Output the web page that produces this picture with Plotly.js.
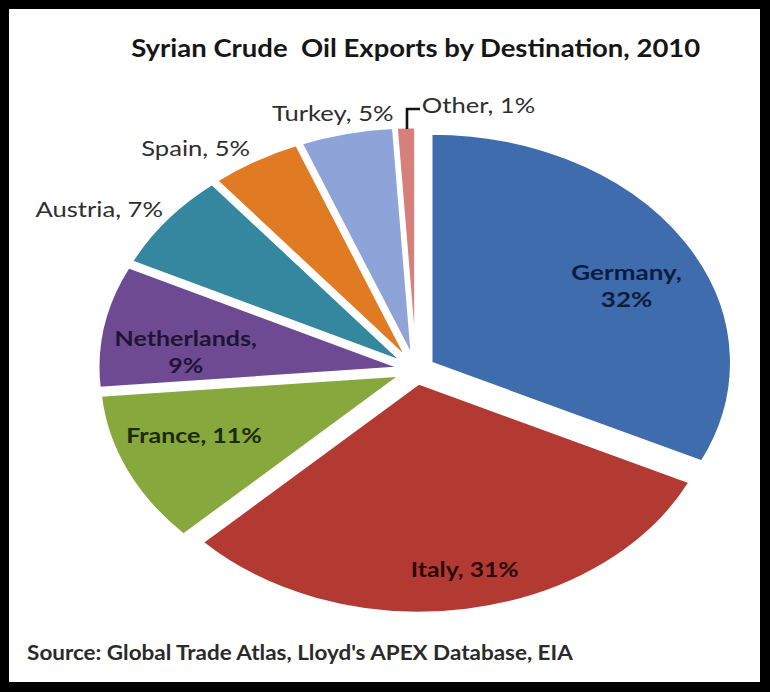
<!DOCTYPE html>
<html>
<head>
<meta charset="utf-8">
<script src="https://cdn.plot.ly/plotly-3.0.0.min.js"></script>
<style>html,body{margin:0;padding:0;background:#000}#chart{width:770px;height:692px}</style>
</head>
<body>
<div id="chart"></div>
<script>
const categories = ["Germany","Italy","France","Netherlands","Austria","Spain","Turkey","Other"];
const shares = [32.1,30.7,10.8,8.6,6.9,4.9,5.0,1.0];
const sliceColors = ["#3f6cad","#b33a32","#86a83c","#6e4a93","#34879f","#e07b24","#8ea3d8","#d6807c"];
const W = 770, H = 692;
const fx = x => x / W, fy = y => 1 - y / H;
const cx = 416, cy = 370, rx = 300, ry = 229, pull = 0.06;
const half = rx * (1 + pull);

const stretches = [];
function note(text, x, y, size, weight, color, widen, anchor) {
  stretches.push({widen, left: anchor === "left"});
  return {text, x: fx(x), y: fy(y), xref: "paper", yref: "paper", showarrow: false,
    xanchor: anchor || "center", yanchor: "middle", align: anchor || "center",
    font: {family: "Lato, 'Open Sans', sans-serif", size, weight, color}};
}

const layout = {
  width: W, height: H,
  margin: {l: 0, r: 0, t: 0, b: 0},
  paper_bgcolor: "#000",
  showlegend: false,
  shapes: [
    {type: "rect", xref: "paper", yref: "paper", layer: "below", x0: fx(9), x1: fx(760), y0: fy(682), y1: fy(9),
      fillcolor: "#fff", line: {width: 0}},
    {type: "path", xref: "paper", yref: "paper", layer: "above",
      path: `M ${fx(407)} ${fy(129)} L ${fx(407)} ${fy(109)} L ${fx(420)} ${fy(109)}`,
      line: {color: "#111", width: 2.6}}
  ],
  annotations: [
    note("Syrian Crude  Oil Exports by Destination, 2010", 416, 47, 25, 700, "#161616", 1.1),
    note("Turkey, 5%", 333, 113, 21, 400, "#2e2e2e", 1.22),
    note("Other, 1%", 478, 104, 21, 400, "#2e2e2e", 1.22),
    note("Spain, 5%", 196, 147, 21, 400, "#2e2e2e", 1.22),
    note("Austria, 7%", 100, 208, 21, 400, "#2e2e2e", 1.22),
    note("Netherlands,<br>9%", 186, 351, 21, 700, "#1d1533", 1.19),
    note("France, 11%", 194, 434, 21, 700, "#1d2a08", 1.19),
    note("Italy, 31%", 465, 568, 21, 700, "#2a0a08", 1.18),
    note("Germany,<br>32%", 626, 285, 21, 700, "#0c1c3c", 1.24),
    note("Source: Global Trade Atlas, Lloyd's APEX Database, EIA", 25, 651, 21, 700, "#2a2a2a", 1.07, "left")
  ]
};

const trace = {
  type: "pie",
  labels: categories,
  values: shares,
  sort: false,
  direction: "clockwise",
  rotation: 0,
  pull: pull,
  textinfo: "none",
  hoverinfo: "skip",
  marker: {colors: sliceColors, line: {color: "#fff", width: 2.5}},
  domain: {x: [fx(cx - half), fx(cx + half)], y: [fy(cy + half), fy(cy - half)]}
};

Plotly.newPlot("chart", [trace], layout, {staticPlot: true, displayModeBar: false}).then(gd => {
  const k = ry / rx;
  gd.querySelectorAll(".pielayer").forEach(g =>
    g.setAttribute("transform", `translate(0 ${cy}) scale(1 ${k}) translate(0 ${-cy})`));
  gd.querySelectorAll(".annotation").forEach((g, i) => {
    const s = stretches[i], b = g.getBBox();
    const o = s.left ? b.x : b.x + b.width / 2;
    g.setAttribute("transform", `translate(${o} 0) scale(${s.widen} 1) translate(${-o} 0)`);
  });
});
</script>
</body>
</html>
